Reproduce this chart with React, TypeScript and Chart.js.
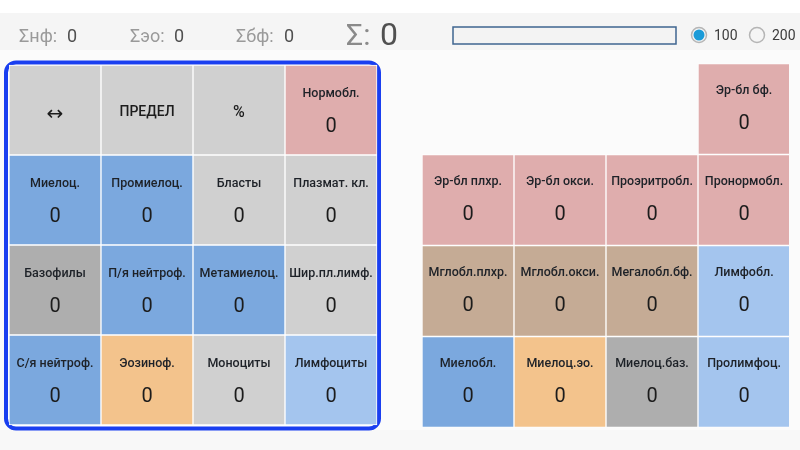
import React, { useEffect, useRef } from "react";
import { Chart, registerables } from "chart.js";

Chart.register(...registerables);

const FONT = "Roboto, 'DejaVu Sans', sans-serif";

const BLUE = "#7ba8de";
const LIGHT = "#a4c5ee";
const GRAY = "#d0d0d0";
const DARK = "#aeaeae";
const PINK = "#dfadad";
const TAN = "#c5ab95";
const ORANGE = "#f3c38c";

// rows top to bottom, four columns each
const leftLabels = [
  "↔", "ПРЕДЕЛ", "%", "Нормобл.",
  "Миелоц.", "Промиелоц.", "Бласты", "Плазмат. кл.",
  "Базофилы", "П/я нейтроф.", "Метамиелоц.", "Шир.пл.лимф.",
  "С/я нейтроф.", "Эозиноф.", "Моноциты", "Лимфоциты",
];
const leftColours = [
  GRAY, GRAY, GRAY, PINK,
  BLUE, BLUE, GRAY, GRAY,
  DARK, BLUE, BLUE, GRAY,
  BLUE, ORANGE, GRAY, LIGHT,
];
const leftValues = [
  null, null, null, 0,
  0, 0, 0, 0,
  0, 0, 0, 0,
  0, 0, 0, 0,
];

const rightLabels = [
  "", "", "", "Эр-бл бф.",
  "Эр-бл плхр.", "Эр-бл окси.", "Проэритробл.", "Пронормобл.",
  "Мглобл.плхр.", "Мглобл.окси.", "Мегалобл.бф.", "Лимфобл.",
  "Миелобл.", "Миелоц.эо.", "Миелоц.баз.", "Пролимфоц.",
];
const rightColours = [
  GRAY, GRAY, GRAY, PINK,
  PINK, PINK, PINK, PINK,
  TAN, TAN, TAN, LIGHT,
  BLUE, ORANGE, DARK, LIGHT,
];
const rightValues = [
  null, null, null, 0,
  0, 0, 0, 0,
  0, 0, 0, 0,
  0, 0, 0, 0,
];

const subTotals = [
  { label: "Σнф:", value: "0", x: 19, valueX: 67 },
  { label: "Σэо:", value: "0", x: 130, valueX: 174 },
  { label: "Σбф:", value: "0", x: 236, valueX: 284 },
];
const total = "0";
const radios = [
  { label: "100", x: 699, on: true },
  { label: "200", x: 757, on: false },
];

// the control buttons in the first row have no count under them
const controlStyles: Record<string, { size: number; at: number }> = {
  "↔": { size: 20, at: 0.56 },
  "ПРЕДЕЛ": { size: 14, at: 0.53 },
  "%": { size: 16, at: 0.53 },
};

const RIGHT_OFFSET = 4.489;

function buildCells(labels: string[], values: (number | null)[], offset: number) {
  return labels.map((label, i) => ({
    x: offset + (i % 4) + 0.5,
    y: [Math.floor(i / 4), Math.floor(i / 4) + 1],
    label,
    value: values[i],
  }));
}

function text(
  ctx: CanvasRenderingContext2D,
  str: string,
  x: number,
  y: number,
  size: number,
  color: string,
  align: CanvasTextAlign = "left",
  weight = 400
) {
  ctx.font = `${weight} ${size}px ${FONT}`;
  ctx.fillStyle = color;
  ctx.textAlign = align;
  ctx.textBaseline = "middle";
  ctx.fillText(str, x, y);
}

const panelPlugin = {
  id: "panel",
  beforeDraw(chart: any) {
    const ctx = chart.ctx as CanvasRenderingContext2D;
    ctx.save();
    ctx.fillStyle = "#ffffff";
    ctx.fillRect(0, 0, 800, 450);
    ctx.fillStyle = "#f5f5f5";
    ctx.fillRect(0, 13, 800, 37);
    ctx.fillStyle = "#fbfbfb";
    ctx.fillRect(0, 50, 800, 380);
    ctx.fillStyle = "#f8f8f8";
    ctx.fillRect(0, 430, 800, 20);

    subTotals.forEach((s) => {
      text(ctx, s.label, s.x, 37, 18, "#9a9a9a");
      text(ctx, s.value, s.valueX, 37, 18, "#505050");
    });
    text(ctx, "Σ:", 346, 37, 30, "#8a8a8a");
    text(ctx, total, 380, 37, 32, "#505050");

    ctx.fillStyle = "#f3f3f3";
    ctx.fillRect(453, 27, 223, 17);
    ctx.strokeStyle = "#3f6590";
    ctx.lineWidth = 1.5;
    ctx.strokeRect(453, 27, 223, 17);

    radios.forEach((r) => {
      ctx.beginPath();
      ctx.arc(r.x, 35, 7.5, 0, Math.PI * 2);
      ctx.fillStyle = "#f5f5f5";
      ctx.fill();
      ctx.strokeStyle = "#b5b5b5";
      ctx.lineWidth = 1.5;
      ctx.stroke();
      if (r.on) {
        ctx.beginPath();
        ctx.arc(r.x, 35, 5.5, 0, Math.PI * 2);
        ctx.fillStyle = "#1a9bd8";
        ctx.fill();
      }
      text(ctx, r.label, r.x + 15, 36, 14, "#3c3c3c");
    });

    ctx.beginPath();
    ctx.roundRect(6, 62.5, 373, 366, 10);
    ctx.fillStyle = "#ffffff";
    ctx.fill();
    ctx.strokeStyle = "#1a3ff0";
    ctx.lineWidth = 4;
    ctx.stroke();
    ctx.restore();
  },
};

const cellTextPlugin = {
  id: "cellText",
  afterDatasetsDraw(chart: any) {
    const ctx = chart.ctx as CanvasRenderingContext2D;
    ctx.save();
    chart.data.datasets.forEach((ds: any, d: number) => {
      const labelAt = d === 0 ? 0.32 : 0.3;
      const valueAt = d === 0 ? 0.69 : 0.67;
      chart.getDatasetMeta(d).data.forEach((bar: any, i: number) => {
        const cell = ds.data[i];
        const top = Math.min(bar.y, bar.base);
        const h = Math.abs(bar.base - bar.y);
        if (cell.value === null) {
          const s = controlStyles[cell.label];
          text(ctx, cell.label, bar.x, top + h * s.at, s.size, "#1c1c1c", "center", 500);
          return;
        }
        text(ctx, cell.label, bar.x, top + h * labelAt, 12.5, "#1e2228", "center", 500);
        text(ctx, String(cell.value), bar.x, top + h * valueAt, 20, "#1c1c1c", "center");
      });
    });
    ctx.restore();
  },
};

const App: React.FC = () => {
  const canvasRef = useRef<HTMLCanvasElement | null>(null);

  useEffect(() => {
    if (!canvasRef.current) return;

    const rightVisible = buildCells(rightLabels, rightValues, RIGHT_OFFSET).filter((c) => c.label);

    const chart = new Chart(canvasRef.current, {
      type: "bar",
      data: {
        datasets: [
          {
            label: "left",
            data: buildCells(leftLabels, leftValues, 0) as any,
            backgroundColor: leftColours,
            yAxisID: "yLeft",
          },
          {
            label: "right",
            data: rightVisible as any,
            backgroundColor: rightColours.filter((_, i) => rightLabels[i]),
            yAxisID: "yRight",
          },
        ],
      },
      options: {
        animation: false,
        responsive: false,
        devicePixelRatio: 1,
        layout: { padding: { left: 9, right: 11, top: 63.5, bottom: 22.5 } },
        datasets: {
          bar: {
            grouped: false,
            barThickness: 92,
            borderColor: "#ffffff",
            borderWidth: 1,
            borderSkipped: false,
          },
        },
        scales: {
          x: { type: "linear", min: 0, max: 8.478, offset: false, display: false },
          yLeft: { reverse: true, min: -0.0167, max: 4.028, display: false },
          yRight: { reverse: true, min: 0, max: 4, display: false },
        },
        plugins: { legend: { display: false }, tooltip: { enabled: false } },
      },
      plugins: [panelPlugin, cellTextPlugin],
    });

    return () => {
      chart.destroy();
    };
  }, []);

  return (
    <div style={{ position: "fixed", left: 0, top: 0, width: 800, height: 450 }}>
      <canvas ref={canvasRef} width={800} height={450} style={{ display: "block" }}></canvas>
    </div>
  );
};

export default App;
